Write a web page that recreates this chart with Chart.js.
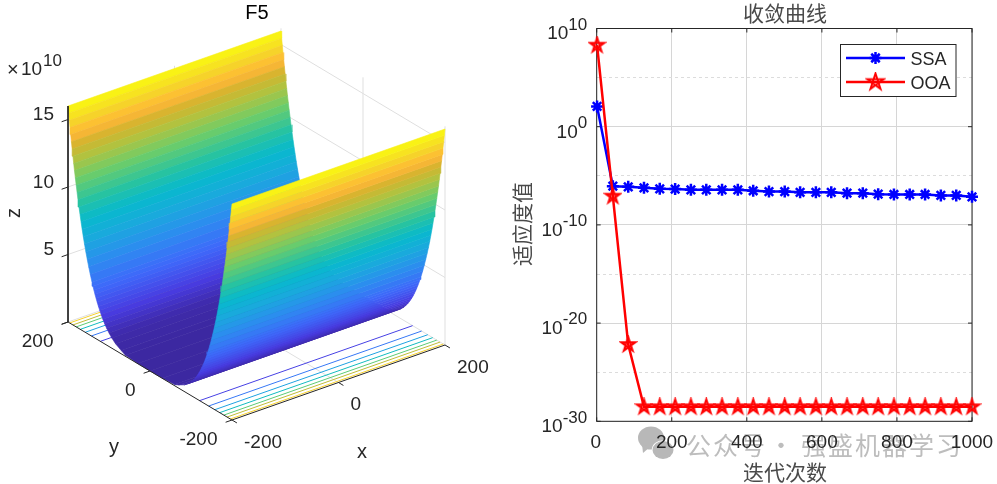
<!DOCTYPE html>
<html>
<head>
<meta charset="utf-8">
<style>
  html, body { margin: 0; padding: 0; background: #fff; overflow: hidden; }
  canvas { position: absolute; top: 0; filter: blur(0.4px); }
  #surfaceChart { left: 0; }
  #curveChart { left: 500px; }
</style>
<script src="https://cdn.jsdelivr.net/npm/chart.js@4/dist/chart.umd.js"></script>
</head>
<body>
<canvas id="surfaceChart" width="500" height="484"></canvas>
<canvas id="curveChart" width="497" height="484"></canvas>
<script>
// ─── Data: convergence curves ───────────────────────────────
const iterations = [1, 43, 84, 126, 168, 209, 251, 292, 334, 376, 417, 459, 501, 542, 584, 625, 667, 709, 750, 792, 834, 875, 917, 958, 1000];
const ssaValues = [115, 8.7e-7, 7.6e-7, 5.9e-7, 4.7e-7, 4.4e-7, 3.7e-7, 3.7e-7, 3.7e-7, 3.7e-7, 3e-7, 2.5e-7, 2.5e-7, 2.1e-7, 2.1e-7, 2.1e-7, 1.7e-7, 1.7e-7, 1.35e-7, 1.25e-7, 1.25e-7, 1.25e-7, 1e-7, 1e-7, 7.3e-8];
const ooaValues = [2e8, 8.5e-8, 6.6e-23, 3e-29, 3e-29, 3e-29, 3e-29, 3e-29, 3e-29, 3e-29, 3e-29, 3e-29, 3e-29, 3e-29, 3e-29, 3e-29, 3e-29, 3e-29, 3e-29, 3e-29, 3e-29, 3e-29, 3e-29, 3e-29, 3e-29];
const curveXTicks = [0, 200, 400, 600, 800, 1000];
const curveYTicks = [1e10, 1e0, 1e-10, 1e-20, 1e-30];
const curveYExponents = ['10', '0', '-10', '-20', '-30'];
const curveYMinor = [1e5, 1e-5, 1e-15, 1e-25];

// ─── Data: F5 surface (trough profile, z in units of 1e10) ──
const surfaceY = [0, 30, 60, 70, 84.1, 93.1, 100, 105.7, 110.7, 115, 118.9, 122.5, 125.7, 128.8, 131.6, 134.3, 136.8, 139.2, 141.4, 145.6, 149.5, 153.1, 156.5, 159.7, 162.7, 165.5, 168.2, 170.7, 173.2, 175.6, 177.8, 180, 182.1, 184.2, 186.1, 188, 189.9, 191.7, 193.4, 195.1, 196.8, 198.4, 200];
const surfaceZ = [0, 0.008, 0.081, 0.24, 0.5, 0.75, 1, 1.25, 1.5, 1.75, 2, 2.25, 2.5, 2.75, 3, 3.25, 3.5, 3.75, 4, 4.5, 5, 5.5, 6, 6.5, 7, 7.5, 8, 8.5, 9, 9.5, 10, 10.5, 11, 11.5, 12, 12.5, 13, 13.5, 14, 14.5, 15, 15.5, 16];
const contourY = [121, 143, 158, 170, 180, 188, 196];
const contourZ = [2.1, 4.2, 6.3, 8.4, 10.5, 12.6, 14.7];
const xTicks = [-200, 0, 200];
const yTicks = [-200, 0, 200];
const zTicks = [5, 10, 15];
const zLabels = ['5', '10', '15'];

// parula-like colour stops: fraction of z range, then r, g, b
const colorStops = [[0, 60, 40, 160], [0.05, 62, 42, 170], [0.12, 72, 60, 225], [0.22, 62, 105, 250], [0.32, 45, 140, 240], [0.42, 25, 170, 220], [0.5, 8, 185, 205], [0.58, 40, 195, 160], [0.68, 110, 205, 105], [0.76, 175, 195, 65], [0.82, 210, 180, 45], [0.87, 255, 182, 55], [0.93, 245, 215, 40], [1, 250, 250, 15]];

const ink = '#262626';
const latin = '"Liberation Sans", Arial, sans-serif';
const cjk = '"Noto Sans CJK SC", sans-serif';

function colorAt(f) {
    let i = 0;
    while (i < colorStops.length - 2 && f > colorStops[i + 1][0]) i++;
    const a = colorStops[i];
    const b = colorStops[i + 1];
    const t = Math.min(Math.max((f - a[0]) / (b[0] - a[0]), 0), 1);
    const c = [1, 2, 3].map(n => Math.round(a[n] + (b[n] - a[n]) * t));
    return `rgb(${c[0]},${c[1]},${c[2]})`;
}

// ─── 3D view: fixed orthographic camera onto the 2D scales ──
const zMax = 16;
const zTop = 16.2;
function project(x, y, z) {
    return {
        x: 256.5 + 0.5325 * x - 0.41 * y,
        y: 333.5 - 0.1875 * x - 0.245 * y - 13.5 * z
    };
}

function pathDataset(points, color, width) {
    return {
        data: points.map(p => project(p[0], p[1], p[2])),
        showLine: true,
        borderColor: color,
        borderWidth: width,
        pointRadius: 0,
        tension: 0,
        clip: false
    };
}

function buildSurfaceDatasets() {
    const back = [];
    const grid = '#dfdfdf';

    // box walls and floor grid
    zTicks.forEach(z => {
        back.push(pathDataset([[-200, 200, z], [200, 200, z], [200, -200, z]], grid, 1));
    });
    back.push(pathDataset([[-200, 200, 0], [200, 200, 0], [200, -200, 0]], grid, 1));
    back.push(pathDataset([[0, -200, 0], [0, 200, 0], [0, 200, zTop]], grid, 1));
    back.push(pathDataset([[-200, 0, 0], [200, 0, 0], [200, 0, zTop]], grid, 1));
    back.push(pathDataset([[200, 200, 0], [200, 200, zTop]], grid, 1));
    back.push(pathDataset([[200, -200, 0], [200, -200, zTop]], grid, 1));

    // contours on the floor, both sides of the trough
    contourY.forEach((y, i) => {
        const c = colorAt(contourZ[i] / zMax);
        back.push(pathDataset([[-200, y, 0], [200, y, 0]], c, 1));
        back.push(pathDataset([[-200, -y, 0], [200, -y, 0]], c, 1));
    });

    // surface strips, far wall first so that the near wall covers the rest
    const ys = surfaceY.slice().reverse().concat(surfaceY.slice(1).map(v => -v));
    const zs = surfaceZ.slice().reverse().concat(surfaceZ.slice(1));
    for (let i = 0; i < ys.length - 1; i++) {
        const c = colorAt((zs[i] + zs[i + 1]) / 2 / zMax);
        const strip = pathDataset([
            [-200, ys[i], zs[i]], [200, ys[i], zs[i]],
            [200, ys[i + 1], zs[i + 1]], [-200, ys[i + 1], zs[i + 1]],
            [-200, ys[i], zs[i]]
        ], c, 0.6);
        strip.fill = 'shape';
        strip.backgroundColor = c;
        back.push(strip);
    }

    // axis lines and ticks
    back.push(pathDataset([[-200, 200, zMax], [-200, 200, 0], [-200, -200, 0], [200, -200, 0]], ink, 1));
    zTicks.concat([0]).forEach(z => back.push(pathDataset([[-200, 200, z], [-212, 200, z]], ink, 1)));
    yTicks.forEach(y => back.push(pathDataset([[-200, y, 0], [-212, y, 0]], ink, 1)));
    xTicks.forEach(x => back.push(pathDataset([[x, -200, 0], [x, -212, 0]], ink, 1)));

    // chart.js paints the first dataset on top
    return back.reverse();
}

// ─── Text helpers ───────────────────────────────────────────
function putText(ctx, text, x, y, font, align, color) {
    ctx.font = font;
    ctx.textAlign = align;
    ctx.textBaseline = 'middle';
    ctx.fillStyle = color || ink;
    ctx.fillText(text, x, y);
}

function putRotated(ctx, text, x, y, font, color) {
    ctx.save();
    ctx.translate(x, y);
    ctx.rotate(-Math.PI / 2);
    putText(ctx, text, 0, 0, font, 'center', color);
    ctx.restore();
}

const surfaceText = {
    id: 'surfaceText',
    afterDatasetsDraw(chart) {
        const ctx = chart.ctx;
        const sx = chart.scales.x;
        const sy = chart.scales.y;
        const font = `19px ${latin}`;
        const labelFont = `20px ${latin}`;
        const at = (x, y, z) => {
            const p = project(x, y, z);
            return { x: sx.getPixelForValue(p.x), y: sy.getPixelForValue(p.y) };
        };
        xTicks.forEach(v => {
            const p = at(v, -200, 0);
            putText(ctx, String(v), p.x + 12, p.y + 22.5, font, 'left');
        });
        yTicks.forEach(v => {
            const p = at(-200, v, 0);
            putText(ctx, String(v), p.x - 14.5, p.y + 20, font, 'right');
        });
        zTicks.forEach((v, i) => {
            const p = at(-200, 200, v);
            putText(ctx, zLabels[i], p.x - 14, p.y - 4.5, font, 'right');
        });
        putText(ctx, '\u00d7', 7, 70, labelFont, 'left');
        putText(ctx, '10', 21, 70, font, 'left');
        putText(ctx, '10', 43, 61, `17px ${latin}`, 'left');
        putText(ctx, 'x', 362, 452, labelFont, 'center');
        putText(ctx, 'y', 114, 447, labelFont, 'center');
        putRotated(ctx, 'z', 14, 213, labelFont);
        putText(ctx, 'F5', 257, 13, `20px ${latin}`, 'center', '#000');
    }
};

new Chart(document.getElementById('surfaceChart'), {
    type: 'scatter',
    data: { datasets: buildSurfaceDatasets() },
    options: {
        responsive: false,
        animation: false,
        events: [],
        layout: { padding: 0 },
        plugins: { legend: { display: false }, tooltip: { enabled: false } },
        scales: {
            x: { type: 'linear', display: false, min: 0, max: 500 },
            y: { type: 'linear', display: false, min: 0, max: 484, reverse: true }
        }
    },
    plugins: [surfaceText]
});

// ─── Convergence curve ──────────────────────────────────────
function pentagram(radius, color) {
    const c = document.createElement('canvas');
    const size = Math.ceil(radius * 2 + 4);
    c.width = size;
    c.height = size;
    const g = c.getContext('2d');
    g.translate(size / 2, size / 2);
    g.strokeStyle = color;
    g.lineWidth = 2;
    g.lineJoin = 'miter';
    g.beginPath();
    for (let i = 0; i < 5; i++) {
        const a = -Math.PI / 2 + i * 4 * Math.PI / 5;
        if (i === 0) g.moveTo(radius * Math.cos(a), radius * Math.sin(a));
        else g.lineTo(radius * Math.cos(a), radius * Math.sin(a));
    }
    g.closePath();
    g.stroke();
    return c;
}

const redStar = pentagram(7.5, '#ff0000');
const legendStar = pentagram(8.5, '#ff0000');

function asterisk(ctx, x, y, r) {
    ctx.beginPath();
    for (let i = 0; i < 4; i++) {
        const a = i * Math.PI / 4;
        ctx.moveTo(x - r * Math.cos(a), y - r * Math.sin(a));
        ctx.lineTo(x + r * Math.cos(a), y + r * Math.sin(a));
    }
    ctx.stroke();
}

const curveFrame = {
    id: 'curveFrame',
    beforeDatasetsDraw(chart) {
        const { ctx, chartArea: a, scales } = chart;
        ctx.save();
        ctx.strokeStyle = ink;
        ctx.lineWidth = 1;
        ctx.strokeRect(a.left, a.top, a.right - a.left, a.bottom - a.top);
        ctx.beginPath();
        curveXTicks.forEach(v => {
            const px = scales.x.getPixelForValue(v);
            ctx.moveTo(px, a.bottom);
            ctx.lineTo(px, a.bottom - 4);
            ctx.moveTo(px, a.top);
            ctx.lineTo(px, a.top + 4);
        });
        curveYTicks.forEach(v => {
            const py = scales.y.getPixelForValue(v);
            ctx.moveTo(a.left, py);
            ctx.lineTo(a.left + 4, py);
            ctx.moveTo(a.right, py);
            ctx.lineTo(a.right - 4, py);
        });
        ctx.stroke();
        ctx.restore();
    },
    afterDatasetsDraw(chart) {
        const { ctx, chartArea: a, scales } = chart;
        const font = `19px ${latin}`;
        const cjkFont = `21px ${cjk}`;
        const cjkInk = '#4a4a4a';

        // watermark sits under the tick labels
        ctx.save();
        ctx.fillStyle = '#b8b8b8';
        ctx.beginPath();
        ctx.ellipse(151, 438, 13, 11.5, 0, 0, Math.PI * 2);
        ctx.fill();
        ctx.beginPath();
        ctx.moveTo(142, 444);
        ctx.lineTo(143, 453);
        ctx.lineTo(150, 447);
        ctx.fill();
        ctx.strokeStyle = '#fff';
        ctx.lineWidth = 1.5;
        ctx.beginPath();
        ctx.ellipse(163, 450, 10.5, 9, 0, 0, Math.PI * 2);
        ctx.stroke();
        ctx.fill();
        ctx.letterSpacing = '2px';
        putText(ctx, '公众号', 186, 445, `25px ${cjk}`, 'left', '#bdbdbd');
        putText(ctx, '强盛机器学习', 301, 445, `25px ${cjk}`, 'left', '#bdbdbd');
        ctx.letterSpacing = '0px';
        putText(ctx, '·', 281, 445, `25px ${cjk}`, 'center', '#bdbdbd');
        ctx.restore();

        curveXTicks.forEach(v => {
            putText(ctx, String(v), scales.x.getPixelForValue(v) - (v === 0 ? 1 : 0), 443, font, 'center');
        });
        curveYTicks.forEach((v, i) => {
            const py = scales.y.getPixelForValue(v);
            const right = a.left - 9.5;
            const exp = curveYExponents[i];
            ctx.font = `17px ${latin}`;
            const w = ctx.measureText(exp).width;
            putText(ctx, exp, right, py - 3.3, `17px ${latin}`, 'right');
            putText(ctx, '10', right - w, py + 5.6, font, 'right');
        });

        putText(ctx, '收敛曲线', 285, 13, cjkFont, 'center', cjkInk);
        putText(ctx, '迭代次数', 285, 472, cjkFont, 'center', cjkInk);
        putRotated(ctx, '适应度值', 22, 224, cjkFont, cjkInk);

        // legend
        ctx.save();
        ctx.fillStyle = '#fff';
        ctx.strokeStyle = ink;
        ctx.lineWidth = 1;
        ctx.fillRect(340.5, 44.5, 115.5, 52);
        ctx.strokeRect(340.5, 44.5, 115.5, 52);
        ctx.lineWidth = 2.5;
        ctx.strokeStyle = '#0000ff';
        ctx.beginPath();
        ctx.moveTo(346, 58);
        ctx.lineTo(405, 58);
        ctx.stroke();
        asterisk(ctx, 375.5, 58, 6);
        ctx.strokeStyle = '#ff0000';
        ctx.beginPath();
        ctx.moveTo(346, 82);
        ctx.lineTo(405, 82);
        ctx.stroke();
        ctx.drawImage(legendStar, 375.5 - legendStar.width / 2, 82 - legendStar.height / 2);
        ctx.restore();
        putText(ctx, 'SSA', 410.5, 60, `18px ${latin}`, 'left');
        putText(ctx, 'OOA', 410.5, 84, `18px ${latin}`, 'left');
    }
};

const gridGray = '#d6d6d6';
new Chart(document.getElementById('curveChart'), {
    type: 'line',
    data: {
        labels: iterations,
        datasets: [
            {
                label: 'SSA',
                data: iterations.map((x, i) => ({ x, y: ssaValues[i] })),
                borderColor: '#0000ff',
                borderWidth: 2.5,
                pointStyle: 'star',
                pointRadius: 6,
                pointBorderColor: '#0000ff',
                pointBorderWidth: 2.5,
                tension: 0,
                order: 2,
                clip: false
            },
            {
                label: 'OOA',
                data: iterations.map((x, i) => ({ x, y: ooaValues[i] })),
                borderColor: '#ff0000',
                borderWidth: 2.5,
                pointStyle: redStar,
                pointRadius: 8,
                tension: 0,
                order: 1,
                clip: false
            }
        ]
    },
    options: {
        responsive: false,
        animation: false,
        events: [],
        layout: { padding: { left: 96.7, right: 25, top: 28.5, bottom: 62.7 } },
        plugins: { legend: { display: false }, tooltip: { enabled: false } },
        scales: {
            x: {
                type: 'linear',
                min: 0,
                max: 1000,
                ticks: { display: false, stepSize: 200 },
                grid: { color: gridGray, drawTicks: false },
                border: { display: false }
            },
            y: {
                type: 'logarithmic',
                min: 1e-30,
                max: 1e10,
                afterBuildTicks(scale) {
                    scale.ticks = curveYTicks.concat(curveYMinor).map(value => ({ value }));
                },
                ticks: { display: false },
                grid: {
                    drawTicks: false,
                    color: c => (curveYMinor.includes(c.tick.value) ? '#dcdcdc' : gridGray)
                },
                border: {
                    display: false,
                    dash: c => (curveYMinor.includes(c.tick.value) ? [3, 3] : [])
                }
            }
        }
    },
    plugins: [curveFrame]
});
</script>
</body>
</html>
